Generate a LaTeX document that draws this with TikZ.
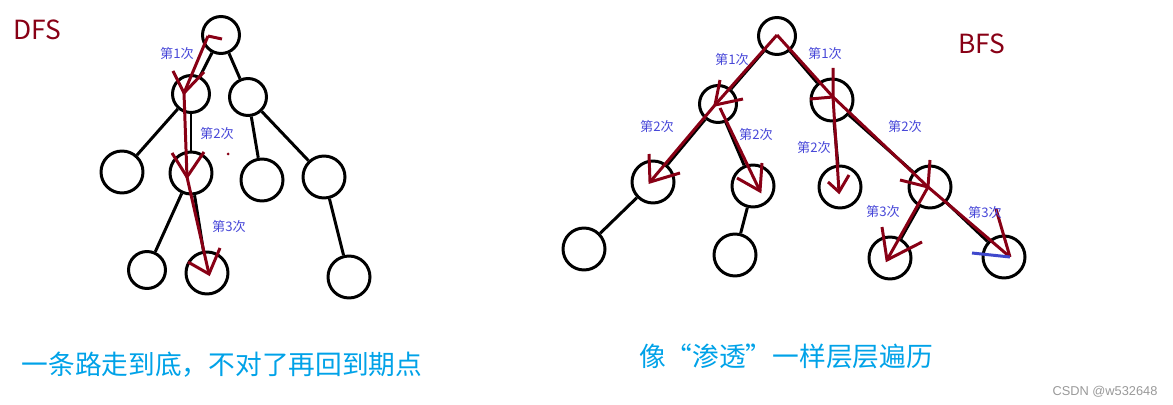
\documentclass[tikz,border=0pt]{standalone}
\usepackage{fontspec}
\setmainfont{Noto Sans CJK SC}
\newfontfamily\wmfont{Liberation Sans}
\definecolor{pathred}{RGB}{136,0,21}
\definecolor{cntblue}{RGB}{72,72,216}
\definecolor{barbblue}{RGB}{63,72,204}
\definecolor{notecyan}{RGB}{0,162,232}

\begin{document}
\begin{tikzpicture}[x=0.02cm, y=-0.02cm]
	\tikzstyle{vertex} = [circle, draw, line width=1.7pt, minimum size=0.74cm, inner sep=0pt]
	\tikzstyle{bigvertex} = [vertex, minimum size=0.84cm]
	\tikzstyle{link} = [line width=1.7pt]
	\tikzstyle{walk} = [draw=pathred, line width=1.7pt]
	\tikzstyle{cnt} = [text=cntblue, font=\fontsize{7.5}{8}\selectfont, inner sep=0pt]
	\tikzstyle{note} = [text=notecyan, font=\fontsize{15.2}{17}\selectfont, inner sep=0pt]
	\tikzstyle{title} = [text=pathred, font=\fontsize{15}{17}\selectfont, inner sep=0pt]

	\useasboundingbox (0,0) rectangle (1173,405);

	% DFS tree
	\node[vertex](d-1) at (221,35){};
	\node[vertex](d-2) at (191,94){};
	\node[vertex](d-3) at (248,97){};
	\node[bigvertex](d-4) at (122,172){};
	\node[bigvertex](d-5) at (191,173){};
	\node[bigvertex](d-6) at (262,180){};
	\node[bigvertex](d-7) at (324,177){};
	\node[vertex](d-8) at (147,270){};
	\node[bigvertex](d-9) at (207,273){};
	\node[bigvertex](d-10) at (349,277){};

	\path[link] (d-1) edge (d-2)
	(d-1) edge (d-3)
	(d-2) edge (d-4)
	(d-2) edge (d-5)
	(d-3) edge (d-6)
	(d-3) edge (d-7)
	(d-5) edge (d-8)
	(d-5) edge (d-9)
	(d-7) edge (d-10);

	% BFS tree
	\node[vertex](b-1) at (777,36){};
	\node[vertex](b-2) at (718,104){};
	\node[bigvertex](b-3) at (832,100){};
	\node[bigvertex](b-4) at (653,182){};
	\node[bigvertex](b-5) at (753,186){};
	\node[bigvertex](b-6) at (584,249){};
	\node[bigvertex](b-7) at (735,255){};
	\node[bigvertex](b-8) at (840,187){};
	\node[bigvertex](b-9) at (930,187){};
	\node[bigvertex](b-10) at (890,258){};
	\node[bigvertex](b-11) at (1004,257){};

	\path[link] (b-1) edge (b-2)
	(b-1) edge (b-3)
	(b-2) edge (b-4)
	(b-2) edge (b-5)
	(b-4) edge (b-6)
	(b-5) edge (b-7)
	(b-3) edge (b-8)
	(b-3) edge (b-9)
	(b-9) edge (b-10)
	(b-9) edge (b-11);

	% hand drawn walks
	\coordinate (dp-0) at (208,36);
	\coordinate (dp-1) at (184,93);
	\coordinate (dp-2) at (187,177);
	\coordinate (dp-3) at (209,274);
	\coordinate (bp-0) at (777,35);
	\coordinate (bp-1) at (715,105);
	\coordinate (bp-2) at (833,97);
	\coordinate (bp-3) at (650,182);
	\coordinate (bp-4) at (720,108);
	\coordinate (bp-5) at (760,191);
	\coordinate (bp-6) at (839,192);
	\coordinate (bp-7) at (928,187);
	\coordinate (bp-8) at (887,260);
	\coordinate (bp-9) at (1010,257);

	\draw[walk] (dp-0) -- ++(14,3);
	\draw[walk] (dp-0) -- (dp-1) -- (dp-2) -- (dp-3);
	\fill[pathred] (228,154) circle (1.5);
	\path[walk] (bp-0) edge (bp-1)
	(bp-0) edge (bp-2)
	(bp-1) edge (bp-3)
	(bp-4) edge (bp-5)
	(bp-2) edge (bp-6)
	(bp-2) edge (bp-7)
	(bp-7) edge (bp-8)
	(bp-7) edge (bp-9);

	\foreach \t/\ax/\ay/\bx/\by in {dp-1/-11/-22/20/-21, dp-2/-15/-24/17/-25, dp-3/-21/-12/11/-26,
		bp-1/5/-25/28/-6, bp-2/0/-29/-23/2, bp-3/-1/-28/30/-9, bp-5/-23/-13/2/-28,
		bp-6/-11/-10/10/-17, bp-7/2/-27/-28/-7, bp-8/-5/-33/35/-18}{
		\draw[walk] (\t) ++(\ax,\ay) -- (\t) -- ++(\bx,\by);
	};
	\draw[walk] (bp-9) -- ++(-14,-48);
	\draw[line width=1.7pt, barbblue] (bp-9) -- ++(-38,-4);

	% labels
	\node[title](dfs) at (37,30) {DFS};
	\node[title](bfs) at (982,44) {BFS};
	\node[cnt](dc-1) at (177,53) {第1次};
	\node[cnt](dc-2) at (217,133) {第2次};
	\node[cnt](dc-3) at (229,226) {第3次};
	\node[cnt](bc-1) at (732,59) {第1次};
	\node[cnt](bc-2) at (825,53) {第1次};
	\node[cnt](bc-3) at (657,126) {第2次};
	\node[cnt](bc-4) at (756,134) {第2次};
	\node[cnt](bc-5) at (814,147) {第2次};
	\node[cnt](bc-6) at (905,126) {第2次};
	\node[cnt](bc-7) at (883,211) {第3次};
	\node[cnt](bc-8) at (985,212) {第3次};
	\node[note](dn) at (222,365) {一条路走到底，不对了再回到期点};
	\node[note](bn) at (786,356) {像“渗透”一样层层遍历};
	\node[text=black!40, font=\wmfont\fontsize{7.3}{8}\selectfont, inner sep=0pt](wm) at (1105,392) {CSDN @w532648};
\end{tikzpicture}
\end{document}
